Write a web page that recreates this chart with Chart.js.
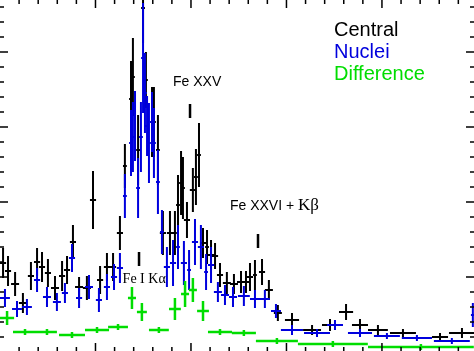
<!DOCTYPE html>
<html><head><meta charset="utf-8">
<script src="https://cdn.jsdelivr.net/npm/chart.js@4/dist/chart.umd.min.js"></script>
<style>html,body{margin:0;padding:0;background:#fff;overflow:hidden}canvas{display:block}</style>
</head><body>
<canvas id="c" width="474" height="351"></canvas>
<script>
// Energy (keV), value, 1-sigma error, half bin width
const centralE = [5.516,5.542,5.579,5.620,5.662,5.694,5.720,5.751,5.788,5.825,5.851,5.882,5.914,5.955,5.987,6.024,6.060,6.092,6.128,6.154,6.186,6.196,6.223,6.249,6.264,6.296,6.306,6.327,6.353,6.390,6.416,6.432,6.448,6.458,6.479,6.510,6.526,6.542,6.563,6.584,6.605,6.626,6.652,6.688,6.725,6.762,6.788,6.809,6.835,6.872,6.908,6.955,7.029,7.134,7.228,7.312,7.385,7.479,7.610,7.804,7.919];
const centralY = [1.187,1.080,0.907,0.653,1.013,1.200,1.133,1.053,0.853,1.013,1.093,1.467,0.867,0.853,2.027,0.960,1.133,1.133,1.587,2.480,3.373,3.667,2.693,4.587,3.627,3.067,3.067,2.693,1.587,1.587,1.587,1.960,2.253,2.187,1.760,2.160,2.333,2.627,1.453,1.400,1.293,1.280,1.027,0.920,0.907,0.933,0.933,1.000,1.027,1.067,0.827,0.520,0.427,0.293,0.360,0.533,0.360,0.293,0.253,0.200,0.253];
const centralErr = [0.2,0.2,0.16,0.133,0.187,0.187,0.2,0.187,0.16,0.2,0.187,0.227,0.133,0.16,0.387,0.187,0.187,0.187,0.227,0.293,0.507,0.52,0.467,0.467,0.373,0.467,0.467,0.467,0.293,0.293,0.293,0.4,0.427,0.413,0.24,0.293,0.373,0.427,0.2,0.227,0.2,0.173,0.16,0.147,0.133,0.147,0.147,0.187,0.2,0.173,0.133,0.107,0.093,0.067,0.08,0.107,0.08,0.067,0.053,0.053,0.067];
const centralHW = [0.016,0.016,0.021,0.021,0.016,0.016,0.016,0.016,0.021,0.016,0.016,0.016,0.021,0.021,0.016,0.016,0.016,0.016,0.016,0.010,0.010,0.010,0.010,0.010,0.010,0.010,0.010,0.010,0.016,0.016,0.010,0.010,0.010,0.010,0.016,0.016,0.010,0.010,0.016,0.010,0.016,0.016,0.016,0.021,0.021,0.021,0.016,0.016,0.010,0.016,0.021,0.021,0.037,0.047,0.042,0.037,0.042,0.052,0.068,0.042,0.068];

const nucleiE = [5.526,5.589,5.641,5.694,5.746,5.798,5.840,5.877,5.914,5.966,6.018,6.060,6.097,6.128,6.154,6.186,6.196,6.207,6.223,6.238,6.249,6.259,6.270,6.280,6.296,6.306,6.327,6.348,6.374,6.406,6.432,6.463,6.490,6.521,6.552,6.579,6.605,6.641,6.678,6.720,6.777,6.835,6.887,6.945,7.029,7.160,7.254,7.385,7.526,7.683,7.866,7.976];
const nucleiY = [0.720,0.573,0.600,0.960,0.733,0.667,0.787,1.253,0.720,0.867,0.693,0.867,1.000,1.120,2.080,2.787,2.867,3.013,2.187,2.867,3.920,3.453,3.013,2.787,3.067,2.787,2.267,1.600,1.133,1.187,1.400,1.187,1.093,1.467,1.400,1.067,1.160,0.800,0.760,0.733,0.747,0.707,0.707,0.547,0.293,0.253,0.360,0.253,0.213,0.187,0.147,0.493];
const nucleiErr = [0.12,0.107,0.107,0.16,0.133,0.12,0.133,0.187,0.133,0.16,0.16,0.173,0.173,0.2,0.293,0.44,0.467,0.467,0.4,0.467,0.733,0.533,0.4,0.533,0.4,0.467,0.427,0.293,0.267,0.307,0.293,0.293,0.267,0.307,0.293,0.24,0.24,0.133,0.133,0.133,0.133,0.12,0.12,0.093,0.067,0.053,0.067,0.053,0.04,0.04,0.04,0.16];
const nucleiHW = [0.026,0.026,0.026,0.016,0.021,0.021,0.016,0.016,0.016,0.021,0.016,0.016,0.016,0.016,0.010,0.010,0.010,0.005,0.010,0.010,0.010,0.010,0.010,0.010,0.010,0.010,0.010,0.010,0.016,0.016,0.010,0.016,0.010,0.016,0.016,0.010,0.016,0.021,0.021,0.021,0.031,0.026,0.026,0.026,0.058,0.068,0.042,0.063,0.068,0.079,0.094,0.010];

const diffE = [5.537,5.631,5.746,5.877,6.008,6.118,6.191,6.243,6.332,6.416,6.469,6.510,6.563,6.652,6.777,6.950,7.243,7.704];
const diffY = [0.453,0.267,0.267,0.227,0.293,0.333,0.720,0.533,0.293,0.573,0.773,0.827,0.547,0.267,0.253,0.147,0.107,0.067];
const diffErr = [0.093,0.04,0.04,0.04,0.04,0.04,0.147,0.12,0.04,0.147,0.173,0.16,0.133,0.04,0.04,0.04,0.04,0.04];
const diffHW = [0.037,0.063,0.052,0.068,0.063,0.052,0.021,0.026,0.052,0.031,0.021,0.021,0.031,0.063,0.063,0.110,0.183,0.277];

// Line identification markers
const lineNames = ['Fe I Kα', 'Fe XXV', 'Fe XXVI + Kβ'];
const lineE = [6.228, 6.495, 6.851];
const lineLo = [1.147, 3.120, 1.387];
const lineHi = [1.333, 3.307, 1.573];

const seriesNames = ['Central', 'Nuclei', 'Difference'];
const seriesColors = ['#000000', '#0000dd', '#00dd00'];

function crosses(E, Y, ERR, HW) {
  const pts = [];
  for (let i = 0; i < E.length; i++) {
    pts.push({x: E[i] - HW[i], y: Y[i]}, {x: E[i] + HW[i], y: Y[i]}, {x: E[i], y: null});
    pts.push({x: E[i], y: Y[i] - ERR[i]}, {x: E[i], y: Y[i] + ERR[i]}, {x: E[i], y: null});
  }
  return pts;
}
function markers() {
  const pts = [];
  for (let i = 0; i < lineE.length; i++) {
    pts.push({x: lineE[i], y: lineLo[i]}, {x: lineE[i], y: lineHi[i]}, {x: lineE[i], y: null});
  }
  return pts;
}

const xTicks = [], yTicks = [];
for (let k = 56; k <= 79; k++) xTicks.push({v: k / 10, major: k % 5 === 0});
for (let k = 1; k <= 23; k++) yTicks.push({v: k / 5, major: k % 5 === 0});

const decor = {
  id: 'decor',
  afterDatasetsDraw(chart) {
    const {ctx, chartArea: a, scales: {x, y}} = chart;
    ctx.save();
    ctx.strokeStyle = '#000';
    ctx.lineWidth = 1.5;
    ctx.beginPath();
    xTicks.forEach(t => {
      const px = x.getPixelForValue(t.v), len = t.major ? 8 : 4;
      ctx.moveTo(px, a.bottom); ctx.lineTo(px, a.bottom - len);
      ctx.moveTo(px, a.top); ctx.lineTo(px, a.top + len);
    });
    yTicks.forEach(t => {
      const py = y.getPixelForValue(t.v), len = t.major ? 8 : 4;
      ctx.moveTo(a.left, py); ctx.lineTo(a.left + len, py);
      ctx.moveTo(a.right, py); ctx.lineTo(a.right - len, py);
    });
    ctx.stroke();

    // line labels
    ctx.fillStyle = '#000';
    ctx.textBaseline = 'alphabetic';
    ctx.textAlign = 'left';
    ctx.font = '14px "Liberation Serif"';
    ctx.fillText(lineNames[0], x.getPixelForValue(6.142), y.getPixelForValue(0.92));
    ctx.font = '14px "Liberation Sans"';
    ctx.fillText(lineNames[1], x.getPixelForValue(6.406), y.getPixelForValue(3.547));
    ctx.fillText('Fe XXVI +', x.getPixelForValue(6.704), y.getPixelForValue(1.893));
    ctx.font = '17px "Liberation Serif"';
    ctx.fillText('Kβ', x.getPixelForValue(7.060), y.getPixelForValue(1.893));

    // legend
    ctx.font = '20px "Liberation Sans"';
    const ly = [4.213, 3.920, 3.627];
    seriesNames.forEach((n, i) => {
      ctx.fillStyle = seriesColors[i];
      ctx.fillText(n, x.getPixelForValue(7.249), y.getPixelForValue(ly[i]));
    });
    ctx.restore();
  }
};

const common = {showLine: true, pointRadius: 0, spanGaps: false, tension: 0, fill: false};
new Chart(document.getElementById('c'), {
  type: 'scatter',
  data: {
    datasets: [
      Object.assign({label: seriesNames[0], data: crosses(centralE, centralY, centralErr, centralHW), borderColor: seriesColors[0], borderWidth: 2, order: 4}, common),
      Object.assign({label: seriesNames[1], data: crosses(nucleiE, nucleiY, nucleiErr, nucleiHW), borderColor: seriesColors[1], borderWidth: 2, order: 3}, common),
      Object.assign({label: seriesNames[2], data: crosses(diffE, diffY, diffErr, diffHW), borderColor: seriesColors[2], borderWidth: 2.5, order: 2}, common),
      Object.assign({label: 'lines', data: markers(), borderColor: '#000', borderWidth: 2.5, order: 1}, common)
    ]
  },
  options: {
    responsive: false,
    animation: false,
    devicePixelRatio: 1,
    events: [],
    layout: {padding: 0},
    plugins: {legend: {display: false}, tooltip: {enabled: false}},
    scales: {
      x: {type: 'linear', min: 5.5, max: 7.982, display: false},
      y: {type: 'linear', min: 0.013, max: 4.693, display: false}
    }
  },
  plugins: [decor]
});
</script>
</body></html>
